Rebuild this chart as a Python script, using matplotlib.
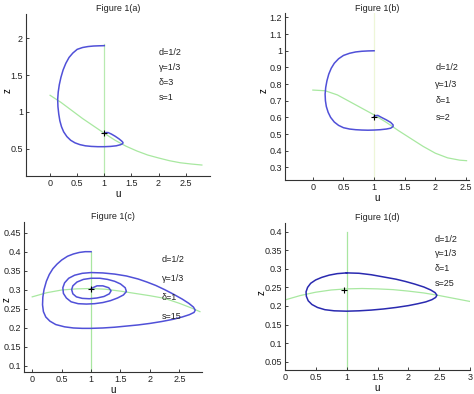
import matplotlib
matplotlib.use("Agg")
import matplotlib.pyplot as plt

# ---------------- data ----------------
# Figure 1(a)
a_traj_u = [1.0, 0.9, 0.8, 0.7, 0.6, 0.5, 0.42, 0.35, 0.29, 0.24, 0.2, 0.17, 0.15, 0.14, 0.145, 0.16, 0.18, 0.21,
            0.25, 0.31, 0.38, 0.46, 0.55, 0.65, 0.76, 0.88, 1.0, 1.12, 1.22, 1.30, 1.34, 1.345, 1.32, 1.27, 1.2,
            1.13, 1.07, 1.03, 1.0]
a_traj_z = [1.90, 1.898, 1.895, 1.888, 1.875, 1.85, 1.80, 1.74, 1.66, 1.57, 1.47, 1.37, 1.27, 1.17, 1.07, 0.97, 0.88,
            0.80, 0.73, 0.665, 0.615, 0.58, 0.556, 0.54, 0.532, 0.528, 0.528, 0.532, 0.54, 0.555, 0.57, 0.585,
            0.605, 0.635, 0.67, 0.70, 0.72, 0.72, 0.71]
a_null_u = [0.0, 0.2, 0.4, 0.6, 0.8, 1.0, 1.2, 1.4, 1.6, 1.8, 2.0, 2.2, 2.4, 2.6, 2.8]
a_null_z = [1.226, 1.13, 1.02, 0.91, 0.81, 0.71, 0.615, 0.535, 0.47, 0.415, 0.375, 0.338, 0.31, 0.293, 0.279]
a_fixed = (1.0, 0.71)
a_xticks = [0, 0.5, 1, 1.5, 2, 2.5]
a_yticks = [0.5, 1, 1.5, 2]
a_params = ["d=1/2", "γ=1/3", "δ=3", "s=1"]

# Figure 1(b)
b_traj_u = [1.0, 0.9, 0.8, 0.7, 0.6, 0.5, 0.42, 0.35, 0.3, 0.26, 0.23, 0.21, 0.2, 0.205, 0.22, 0.25, 0.29, 0.35,
            0.42, 0.5, 0.6, 0.7, 0.8, 0.9, 1.0, 1.1, 1.2, 1.27, 1.31, 1.31, 1.27, 1.2, 1.12, 1.06, 1.02, 1.0]
b_traj_z = [1.0, 0.999, 0.997, 0.993, 0.985, 0.972, 0.952, 0.925, 0.895, 0.86, 0.82, 0.78, 0.74, 0.70, 0.665,
            0.63, 0.60, 0.572, 0.552, 0.538, 0.53, 0.526, 0.524, 0.523, 0.524, 0.526, 0.53, 0.535, 0.545, 0.555,
            0.57, 0.585, 0.60, 0.612, 0.61, 0.605]
b_null_u = [0.0, 0.2, 0.4, 0.6, 0.8, 1.0, 1.2, 1.4, 1.6, 1.8, 2.0, 2.2, 2.4, 2.51]
b_null_z = [0.764, 0.76, 0.735, 0.695, 0.655, 0.615, 0.57, 0.52, 0.473, 0.426, 0.385, 0.357, 0.343, 0.34]
b_fixed = (1.0, 0.605)
b_xticks = [0, 0.5, 1, 1.5, 2, 2.5]
b_yticks = [0.3, 0.4, 0.5, 0.6, 0.7, 0.8, 0.9, 1, 1.1, 1.2]
b_params = ["d=1/2", "γ=1/3", "δ=1", "s=2"]

# Figure 1(c)
c_traj_u = [1.0, 0.9, 0.8, 0.7, 0.6, 0.5, 0.42, 0.35, 0.29, 0.24, 0.2, 0.18, 0.175, 0.19, 0.23, 0.3, 0.4, 0.55,
            0.7, 0.85, 1.0, 1.2, 1.4, 1.6, 1.8, 2.0, 2.2, 2.4, 2.55, 2.67, 2.75, 2.77, 2.74, 2.66, 2.55, 2.4,
            2.25, 2.1, 1.95, 1.8, 1.6, 1.4, 1.2, 1.0, 0.85, 0.72, 0.62, 0.55, 0.52, 0.53, 0.58, 0.66, 0.78,
            0.92, 1.06, 1.2, 1.33, 1.45, 1.55, 1.6, 1.58, 1.5, 1.4, 1.28, 1.15, 1.0, 0.87, 0.76, 0.69, 0.67,
            0.69, 0.75, 0.85, 0.97, 1.1, 1.22, 1.31, 1.34, 1.3, 1.2, 1.1, 1.03, 1.0]
c_traj_z = [0.40, 0.40, 0.398, 0.394, 0.388, 0.378, 0.367, 0.355, 0.34, 0.322, 0.30, 0.28, 0.26, 0.242, 0.228,
            0.217, 0.208, 0.202, 0.199, 0.198, 0.198, 0.199, 0.201, 0.204, 0.207, 0.211, 0.216, 0.222, 0.228,
            0.234, 0.24, 0.246, 0.254, 0.264, 0.275, 0.288, 0.30, 0.311, 0.32, 0.328, 0.336, 0.341, 0.344,
            0.345, 0.343, 0.338, 0.33, 0.318, 0.305, 0.29, 0.278, 0.268, 0.263, 0.262, 0.263, 0.266, 0.271,
            0.278, 0.286, 0.295, 0.305, 0.315, 0.322, 0.327, 0.33, 0.33, 0.327, 0.32, 0.31, 0.30, 0.289,
            0.281, 0.277, 0.276, 0.278, 0.282, 0.289, 0.297, 0.305, 0.31, 0.31, 0.305, 0.302]
c_null_u = [0.0, 0.25, 0.5, 0.75, 1.0, 1.25, 1.5, 1.75, 2.0, 2.25, 2.5, 2.7, 2.85]
c_null_z = [0.281, 0.292, 0.299, 0.302, 0.303, 0.301, 0.296, 0.29, 0.284, 0.277, 0.264, 0.252, 0.242]
c_fixed = (1.0, 0.302)
c_xticks = [0, 0.5, 1, 1.5, 2, 2.5]
c_yticks = [0.1, 0.15, 0.2, 0.25, 0.3, 0.35, 0.4, 0.45]
c_params = ["d=1/2", "γ=1/3", "δ=1", "s=15"]

# Figure 1(d)
d_traj_u = [1.0, 0.85, 0.72, 0.6, 0.5, 0.42, 0.37, 0.345, 0.35, 0.38, 0.44, 0.53, 0.65, 0.8, 1.0, 1.2, 1.4, 1.6,
            1.8, 2.0, 2.15, 2.28, 2.38, 2.44, 2.46, 2.43, 2.36, 2.25, 2.1, 1.95, 1.8, 1.6, 1.4, 1.2, 1.0]
d_traj_z = [0.289, 0.287, 0.283, 0.277, 0.27, 0.261, 0.25, 0.238, 0.226, 0.214, 0.204, 0.196, 0.19, 0.187,
            0.186, 0.187, 0.189, 0.192, 0.196, 0.201, 0.206, 0.211, 0.217, 0.223, 0.229, 0.236, 0.243, 0.251,
            0.259, 0.266, 0.272, 0.278, 0.284, 0.288, 0.289]
d_null_u = [0.0, 0.25, 0.5, 0.75, 1.0, 1.25, 1.5, 1.75, 2.0, 2.25, 2.5, 2.75, 3.0]
d_null_z = [0.216, 0.228, 0.237, 0.243, 0.246, 0.247, 0.246, 0.244, 0.24, 0.235, 0.228, 0.22, 0.212]
d_fixed = (0.963, 0.242)
d_xticks = [0, 0.5, 1, 1.5, 2, 2.5, 3]
d_yticks = [0.05, 0.1, 0.15, 0.2, 0.25, 0.3, 0.35, 0.4]
d_params = ["d=1/2", "γ=1/3", "δ=1", "s=25"]

# ---------------- figure ----------------
W, H = 474, 394
fig = plt.figure(figsize=(W / 100, H / 100), dpi=100)
plt.rcParams['font.family'] = ['Liberation Sans', 'DejaVu Sans']

def rect(l, r, b, t):
    return [l / W, 1 - b / H, (r - l) / W, (b - t) / H]

panels = [
    dict(rect=rect(25.7, 210, 176, 14), title="Figure 1(a)",
         tu=a_traj_u, tz=a_traj_z, nu=a_null_u, nz=a_null_z, fp=a_fixed,
         xt=a_xticks, yt=a_yticks, xlim=(-0.45, 2.95), ylim=(0.13, 2.33),
         vline=(0.13, 1.92), vcol='#b8eab0', params=a_params, px=2.0, pz=[1.81, 1.60, 1.40, 1.19],
         tcol='#5050d8', ylab=(-0.072, 0.527)),
    dict(rect=rect(284.7, 469, 180, 13.3), title="Figure 1(b)",
         tu=b_traj_u, tz=b_traj_z, nu=b_null_u, nz=b_null_z, fp=b_fixed,
         xt=b_xticks, yt=b_yticks, xlim=(-0.46, 2.55), ylim=(0.224, 1.225),
         vline=(0.224, 1.225), vcol='#eef6d8', params=b_params, px=2.0, pz=[0.90, 0.80, 0.70, 0.60],
         tcol='#5050d8', ylab=(-0.085, 0.536)),
    dict(rect=rect(24, 201.7, 372, 221.7), title="Figure 1(c)",
         tu=c_traj_u, tz=c_traj_z, nu=c_null_u, nz=c_null_z, fp=c_fixed,
         xt=c_xticks, yt=c_yticks, xlim=(-0.14, 2.88), ylim=(0.083, 0.479),
         vline=(0.083, 0.40), vcol='#a8e6a0', params=c_params, px=2.2, pz=[0.38, 0.33, 0.28, 0.228],
         tcol='#5050d8', ylab=(-0.07, 0.482)),
    dict(rect=rect(284.7, 470.3, 370.3, 222.7), title="Figure 1(d)",
         tu=d_traj_u, tz=d_traj_z, nu=d_null_u, nz=d_null_z, fp=d_fixed,
         xt=d_xticks, yt=d_yticks, xlim=(0, 3.0), ylim=(0.027, 0.424),
         vline=(0.027, 0.40), vcol='#a8e6a0', params=d_params, px=2.43, pz=[0.38, 0.34, 0.30, 0.26],
         tcol='#2a2ab0', ylab=(-0.10, 0.526)),
]

for p in panels:
    ax = fig.add_axes(p['rect'])
    ax.plot([1, 1], p['vline'], color=p['vcol'], lw=0.9, zorder=1)
    ax.plot(p['nu'], p['nz'], color='#a8e8a0', lw=0.9, zorder=2)
    ax.plot(p['tu'], p['tz'], color=p['tcol'], lw=1.1, zorder=3, solid_joinstyle='round')
    ax.plot([p['fp'][0]], [p['fp'][1]], marker='+', color='black', ms=5, mew=0.8, zorder=4)
    for s, z in zip(p['params'], p['pz']):
        ax.text(p['px'], z, s, fontsize=6.5, color='#222222', va='center', ha='left')
    ax.set_xlim(*p['xlim'])
    ax.set_ylim(*p['ylim'])
    ax.set_xticks(p['xt'])
    ax.set_xticklabels([f"{v:g}" for v in p['xt']])
    ax.set_yticks(p['yt'])
    ax.set_yticklabels([f"{v:g}" for v in p['yt']])
    ax.tick_params(direction='in', length=2, width=0.6, labelsize=6.5, pad=2, colors='#222222')
    for side in ('top', 'right'):
        ax.spines[side].set_visible(False)
    for side in ('left', 'bottom'):
        ax.spines[side].set_linewidth(0.8)
        ax.spines[side].set_color('#333333')
    ax.set_title(p['title'], fontsize=6.5, pad=2, color='#222222')
    ax.set_xlabel("u", fontsize=7, labelpad=1)
    ax.set_ylabel("z", fontsize=7)
    ax.yaxis.set_label_coords(*p['ylab'])
    ax.patch.set_visible(False)

fig.savefig("out.png", dpi=100, facecolor='white')
